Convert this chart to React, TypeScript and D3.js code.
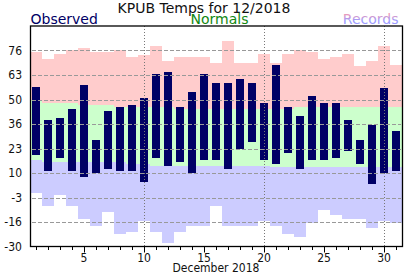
import React from "react";
import * as d3 from "d3";

// December 2018, Pueblo (KPUB), degrees F, one value per day 1..31
const days = d3.range(1, 32);
const obsHigh = [57, 39, 40, 45, 58, 28, 44, 46, 47, 51, 64, 65, 46, 54, 64, 59, 59, 61, 59, 48, 69, 46, 41, 52, 48, 48, 39, 28, 36, 56, 33];
const obsLow = [20, 11, 18, 11, 8, 10, 12, 11, 11, 5, 18, 14, 16, 10, 17, 17, 12, 23, 27, 17, 15, 21, 12, 17, 17, 18, 22, 15, 4, 10, 11];
const normHigh = [50, 48, 48, 48, 47, 47, 47, 46, 46, 46, 46, 46, 45, 45, 45, 45, 45, 45, 45, 45, 45, 45, 46, 46, 46, 46, 46, 46, 46, 46, 46];
const normLow = [17, 16, 16, 16, 16, 16, 16, 16, 15, 15, 14, 14, 14, 14, 14, 14, 14, 14, 14, 14, 13, 13, 13, 13, 13, 13, 13, 13, 13, 13, 13];
const recHigh = [76, 72, 75, 77, 78, 76, 76, 77, 73, 74, 79, 71, 73, 73, 73, 70, 82, 70, 70, 75, 70, 75, 77, 76, 72, 73, 75, 68, 71, 79, 69];
const recLow = [-1, -8, -2, -8, -15, -19, -11, -23, -22, -16, -22, -28, -22, -19, -19, -8, -19, -19, -19, -16, -19, -23, -25, -17, -10, -13, -15, -15, -20, -16, -17];
const xLabels = [5, 10, 15, 20, 25, 30];
const vGrid = [10, 20, 30];
const yTicks = d3.range(9).map((k) => -30 + (k * 40) / 3);

const W = 412;
const H = 276;
const left = 30;
const right = 402;
const top = 26;
const bottom = 246.5;

export default function App() {
  const x = d3.scaleBand<number>().domain(days).range([left, right]).padding(0);
  const y = d3.scaleLinear().domain([-30, 90]).range([bottom, top]);
  const bw = x.bandwidth();
  const barW = 8;
  const cx = (d: number) => (x(d) as number) + bw / 2;
  const axisFont = "'DejaVu Sans Condensed', 'DejaVu Sans', sans-serif";
  const titleFont = "'DejaVu Sans', Verdana, sans-serif";

  return (
    <svg width={W} height={H} style={{ position: "absolute", left: 0, top: 0, background: "#fff" }}>
      <defs>
        <linearGradient id="recGrad" x1="0" y1="0" x2="0" y2="1">
          <stop offset="10%" stopColor="#ff99a8" />
          <stop offset="60%" stopColor="#9d9aff" />
        </linearGradient>
      </defs>

      {/* bands */}
      <g shapeRendering="crispEdges">
        {days.map((d, i) => (
          <g key={"b" + d}>
            <rect x={x(d)} width={bw} y={y(recHigh[i])} height={y(normHigh[i]) - y(recHigh[i])} fill="#ffcccc" />
            <rect x={x(d)} width={bw} y={y(normHigh[i])} height={y(normLow[i]) - y(normHigh[i])} fill="#ccffcc" />
            <rect x={x(d)} width={bw} y={y(normLow[i])} height={y(recLow[i]) - y(normLow[i])} fill="#ccccff" />
          </g>
        ))}

        {/* observed */}
        {days.map((d, i) => (
          <rect key={"o" + d} x={cx(d) - barW / 2} width={barW} y={y(obsHigh[i])} height={y(obsLow[i]) - y(obsHigh[i])} fill="#000066" />
        ))}
      </g>

      {/* grid */}
      {yTicks.slice(1).map((t) => (
        <line key={"g" + t} x1={left + 2} x2={right - 1} y1={Math.round(y(t)) + 0.5} y2={Math.round(y(t)) + 0.5} stroke="#999" strokeDasharray="4,2" />
      ))}
      {vGrid.map((d) => (
        <line key={"v" + d} x1={Math.round(cx(d)) + 0.5} x2={Math.round(cx(d)) + 0.5} y1={top} y2={bottom} stroke="#777" strokeDasharray="1,2" />
      ))}

      {/* frame */}
      <rect x={left + 0.5} y={top} width={right - left} height={bottom - top} fill="none" stroke="#000" strokeWidth={1.3} />

      {/* y labels */}
      {yTicks.map((t) => (
        <text key={"yl" + t} x={22} y={y(t)} dy="0.36em" textAnchor="end" fontFamily={axisFont} fontSize={12} fill="#111">
          {Math.trunc(t)}
        </text>
      ))}

      {/* x ticks */}
      {days.map((d) => (
        <line key={"xt" + d} x1={Math.round(cx(d)) + 0.5} x2={Math.round(cx(d)) + 0.5} y1={bottom} y2={bottom + (d % 5 === 0 ? 6 : 3.5)} stroke="#000" />
      ))}
      {xLabels.map((d) => (
        <text key={"xl" + d} x={cx(d)} y={262} textAnchor="middle" fontFamily={axisFont} fontSize={12} fill="#111">
          {d}
        </text>
      ))}
      <text x={(left + right) / 2} y={271.5} textAnchor="middle" fontFamily={axisFont} fontSize={12} fill="#111">
        December 2018
      </text>

      {/* title + legend */}
      <text x={204} y={12.5} textAnchor="middle" fontFamily={titleFont} fontSize={14} fill="#111">
        KPUB Temps for 12/2018
      </text>
      <text x={30.5} y={24} fontFamily={titleFont} fontSize={14} fill="#000066">
        Observed
      </text>
      <text x={219.5} y={24} textAnchor="middle" fontFamily={titleFont} fontSize={14} fill="#118811">
        Normals
      </text>
      <text x={398.5} y={24} textAnchor="end" fontFamily={titleFont} fontSize={14} fill="url(#recGrad)">
        Records
      </text>
    </svg>
  );
}
